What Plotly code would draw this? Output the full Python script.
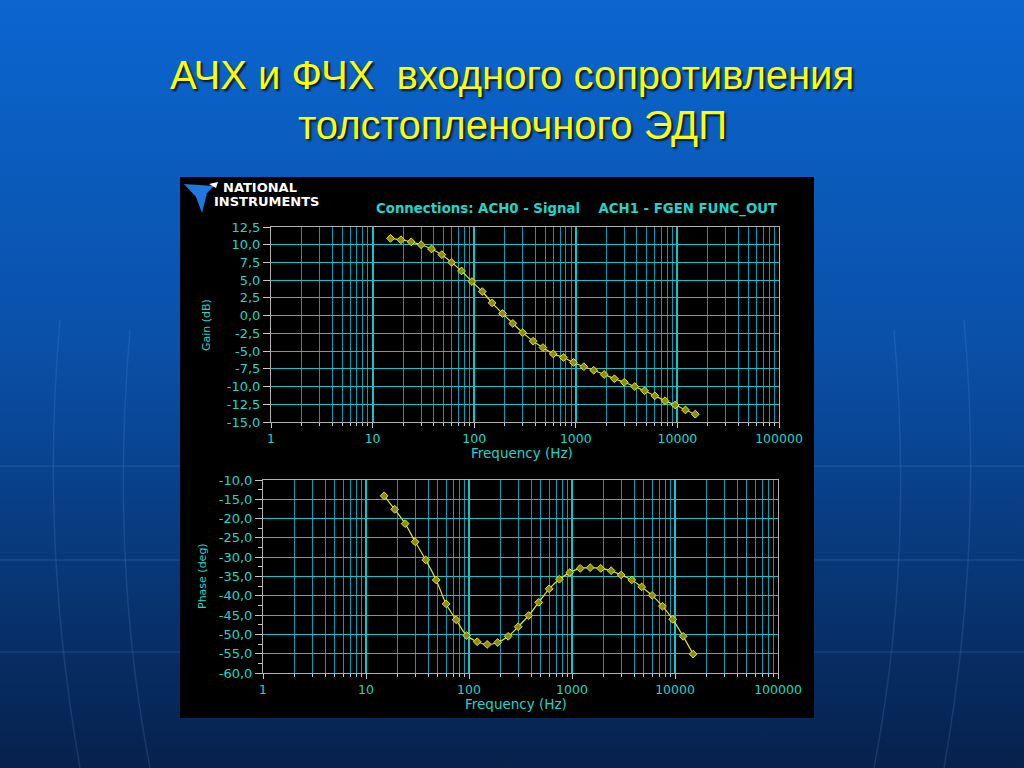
import base64
import plotly.graph_objects as go

# ---------------- data ----------------
freq_hz = [15, 19, 24, 30, 38, 48, 60, 75, 95, 120, 150, 190, 240, 300, 380, 475,
           600, 755, 950, 1200, 1500, 1900, 2400, 3000, 3800, 4750, 6000, 7550,
           9500, 12000, 15000]
gain_db = [10.9, 10.7, 10.4, 10.0, 9.4, 8.6, 7.5, 6.3, 4.8, 3.4, 1.8, 0.3, -1.1,
           -2.4, -3.6, -4.5, -5.4, -5.9, -6.6, -7.2, -7.7, -8.3, -8.9, -9.4,
           -10.0, -10.6, -11.3, -12.0, -12.6, -13.3, -13.9]
phase_deg = [-14.1, -17.6, -21.3, -26.0, -30.7, -35.9, -42.1, -46.2, -50.3, -51.9,
             -52.6, -52.1, -50.5, -48.0, -45.1, -41.7, -38.2, -35.7, -34.0, -32.9,
             -32.7, -32.9, -33.5, -34.6, -35.9, -37.7, -39.9, -42.7, -46.1, -50.5,
             -55.1]

x_tickvals = [1, 10, 100, 1000, 10000, 100000]
x_ticktext = ["1", "10", "100", "1000", "10000", "100000"]
gain_tickvals = [12.5, 10, 7.5, 5, 2.5, 0, -2.5, -5, -7.5, -10, -12.5, -15]
gain_ticktext = ["12,5", "10,0", "7,5", "5,0", "2,5", "0,0", "-2,5", "-5,0",
                 "-7,5", "-10,0", "-12,5", "-15,0"]
phase_tickvals = [-10, -15, -20, -25, -30, -35, -40, -45, -50, -55, -60]
phase_ticktext = ["-10,0", "-15,0", "-20,0", "-25,0", "-30,0", "-35,0", "-40,0",
                  "-45,0", "-50,0", "-55,0", "-60,0"]

title_line1 = "АЧХ и ФЧХ  входного сопротивления"
title_line2 = "толстопленочного ЭДП"
conn_text = "Connections: ACH0 - Signal     ACH1 - FGEN FUNC_OUT"

# ---------------- helpers ----------------
W, H = 1024, 768
def px(x):
    return x / W
def py(y):
    return 1 - y / H

CYAN = "#22d4cc"
GRID = "#14c4c8"
MINOR_GRID = "#1696ae"
LINE_YELLOW = "#e6e619"
MARKER_FILL = "#8c8c1e"

# background gradient svg
svg = f'''<svg xmlns="http://www.w3.org/2000/svg" width="{W}" height="{H}" viewBox="0 0 {W} {H}">
<defs><linearGradient id="g" x1="0" y1="0" x2="0" y2="1">
<stop offset="0" stop-color="#0b66cf"/>
<stop offset="0.45" stop-color="#0a50a8"/>
<stop offset="1" stop-color="#06214c"/>
</linearGradient></defs>
<rect width="{W}" height="{H}" fill="url(#g)"/>
<g stroke="#5f8fd8" stroke-opacity="0.2" fill="none" stroke-width="1.5">
<path d="M0 466 L1024 466"/>
<path d="M0 560 L1024 560"/>
<path d="M0 652 L1024 652"/>
<path d="M60 320 Q40 540 80 768"/>
<path d="M130 330 Q110 560 150 768"/>
<path d="M964 320 Q984 540 944 768"/>
<path d="M894 330 Q914 560 874 768"/>
</g>
</svg>'''
svg_uri = "data:image/svg+xml;base64," + base64.b64encode(svg.encode()).decode()

fig = go.Figure()

marker_style = dict(symbol="diamond", size=6, color=MARKER_FILL,
                    line=dict(color=LINE_YELLOW, width=1))

fig.add_trace(go.Scatter(
    x=freq_hz, y=gain_db, mode="lines+markers", xaxis="x", yaxis="y",
    line=dict(color=LINE_YELLOW, width=1.2, shape="spline"),
    marker=marker_style, showlegend=False, hoverinfo="skip"))

fig.add_trace(go.Scatter(
    x=freq_hz, y=phase_deg, mode="lines+markers", xaxis="x2", yaxis="y2",
    line=dict(color=LINE_YELLOW, width=1.2, shape="spline"),
    marker=marker_style, showlegend=False, hoverinfo="skip"))

xtickfont = dict(family="DejaVu Sans", size=12.5, color=CYAN)
ytickfont = dict(family="DejaVu Sans", size=13, color=CYAN)

def xaxis_cfg(x0, x1, anchor):
    return dict(
        type="log", range=[0, 5], domain=[px(x0), px(x1)], anchor=anchor,
        tickmode="array", tickvals=x_tickvals, ticktext=x_ticktext,
        ticks="outside", ticklen=5, tickcolor="#c8c8c8", tickwidth=1,
        tickfont=xtickfont, automargin=False,
        showgrid=True, gridcolor=GRID, gridwidth=1.6,
        minor=dict(dtick="D1", showgrid=True, gridcolor=MINOR_GRID, gridwidth=1,
                   ticks="outside", ticklen=3, tickcolor="#c8c8c8"),
        showline=True, linecolor="#b0b0b0", linewidth=1, mirror=True,
        zeroline=False, fixedrange=True)

def yaxis_cfg(y0, y1, rng, tv, tt, anchor, minor=None):
    d = dict(
        range=rng, domain=[py(y1), py(y0)], anchor=anchor,
        tickmode="array", tickvals=tv, ticktext=tt,
        ticks="outside", ticklen=7, tickcolor="#c8c8c8", tickwidth=1,
        tickfont=ytickfont, automargin=False,
        showgrid=True, gridcolor=GRID, gridwidth=1.3,
        showline=True, linecolor="#b0b0b0", linewidth=1, mirror=True,
        zeroline=False, fixedrange=True)
    if minor:
        d["minor"] = minor
    return d

shapes = [
    dict(type="rect", xref="paper", yref="paper", x0=px(180), x1=px(814),
         y0=py(718), y1=py(177), fillcolor="#000000", line=dict(width=0),
         layer="below"),
    # NI logo (stylised eagle)
    dict(type="path", xref="paper", yref="paper",
         path=(f"M {px(184)} {py(184)} L {px(214)} {py(186)} L {px(207)} {py(193)} "
               f"L {px(202)} {py(213)} L {px(196)} {py(197)} Z"),
         fillcolor="#1f78e0", line=dict(width=0), layer="above"),
    dict(type="path", xref="paper", yref="paper",
         path=(f"M {px(209)} {py(184)} L {px(218)} {py(182)} L {px(216)} {py(188)} Z"),
         fillcolor="#ffffff", line=dict(width=0), layer="above"),
]

title_font = dict(family="Liberation Sans", size=40, color="#ffff00",
                  shadow="2px 2px 2px #00163a")

annotations = [
    dict(text=title_line1, x=px(512), y=py(75), xref="paper", yref="paper",
         showarrow=False, xanchor="center", yanchor="middle", font=title_font),
    dict(text=title_line2, x=px(512), y=py(125), xref="paper", yref="paper",
         showarrow=False, xanchor="center", yanchor="middle", font=title_font),
    dict(text="<b>NATIONAL</b>", x=px(221), y=py(187.5), xref="paper", yref="paper",
         showarrow=False, xanchor="left", yanchor="middle",
         font=dict(family="DejaVu Sans", size=13, color="#ffffff")),
    dict(text="<b>INSTRUMENTS</b>", x=px(212), y=py(202), xref="paper", yref="paper",
         showarrow=False, xanchor="left", yanchor="middle",
         font=dict(family="DejaVu Sans", size=13, color="#ffffff")),
    dict(text="<b>" + conn_text.replace("     ", "&nbsp;&nbsp;&nbsp;&nbsp;") + "</b>",
         x=px(779), y=py(209), xref="paper", yref="paper",
         showarrow=False, xanchor="right", yanchor="middle",
         font=dict(family="DejaVu Sans", size=13.3, color=CYAN)),
    dict(text="Gain (dB)", x=px(207), y=py(325), xref="paper", yref="paper",
         showarrow=False, textangle=-90, xanchor="center", yanchor="middle",
         font=dict(family="DejaVu Sans", size=11, color=CYAN)),
    dict(text="Phase (deg)", x=px(202), y=py(576), xref="paper", yref="paper",
         showarrow=False, textangle=-90, xanchor="center", yanchor="middle",
         font=dict(family="DejaVu Sans", size=11, color=CYAN)),
    dict(text="Frequency (Hz)", x=px(522), y=py(453), xref="paper", yref="paper",
         showarrow=False, xanchor="center", yanchor="middle",
         font=dict(family="DejaVu Sans", size=13.5, color=CYAN)),
    dict(text="Frequency (Hz)", x=px(516), y=py(704), xref="paper", yref="paper",
         showarrow=False, xanchor="center", yanchor="middle",
         font=dict(family="DejaVu Sans", size=13.5, color=CYAN)),
]

fig.update_layout(
    width=W, height=H, autosize=False, margin=dict(l=0, r=0, t=0, b=0, pad=0),
    paper_bgcolor="#0a50a8", plot_bgcolor="rgba(0,0,0,0)",
    xaxis=xaxis_cfg(271, 779, "y"),
    yaxis=yaxis_cfg(227, 422, [-15, 12.5], gain_tickvals, gain_ticktext, "x"),
    xaxis2=xaxis_cfg(263, 778, "y2"),
    yaxis2=yaxis_cfg(480, 673, [-60, -10], phase_tickvals, phase_ticktext, "x2",
                     minor=dict(dtick=2.5, tick0=-10, ticks="outside", ticklen=4,
                                tickcolor="#c8c8c8", showgrid=False)),
    shapes=shapes, annotations=annotations,
    images=[dict(source=svg_uri, xref="paper", yref="paper", x=0, y=1,
                 sizex=1, sizey=1, xanchor="left", yanchor="top",
                 sizing="stretch", layer="below")],
)

fig.write_html("out.html", config={"displayModeBar": False, "responsive": False},
               post_script="document.body.style.margin='0';"
                           "document.body.style.overflow='hidden';")
